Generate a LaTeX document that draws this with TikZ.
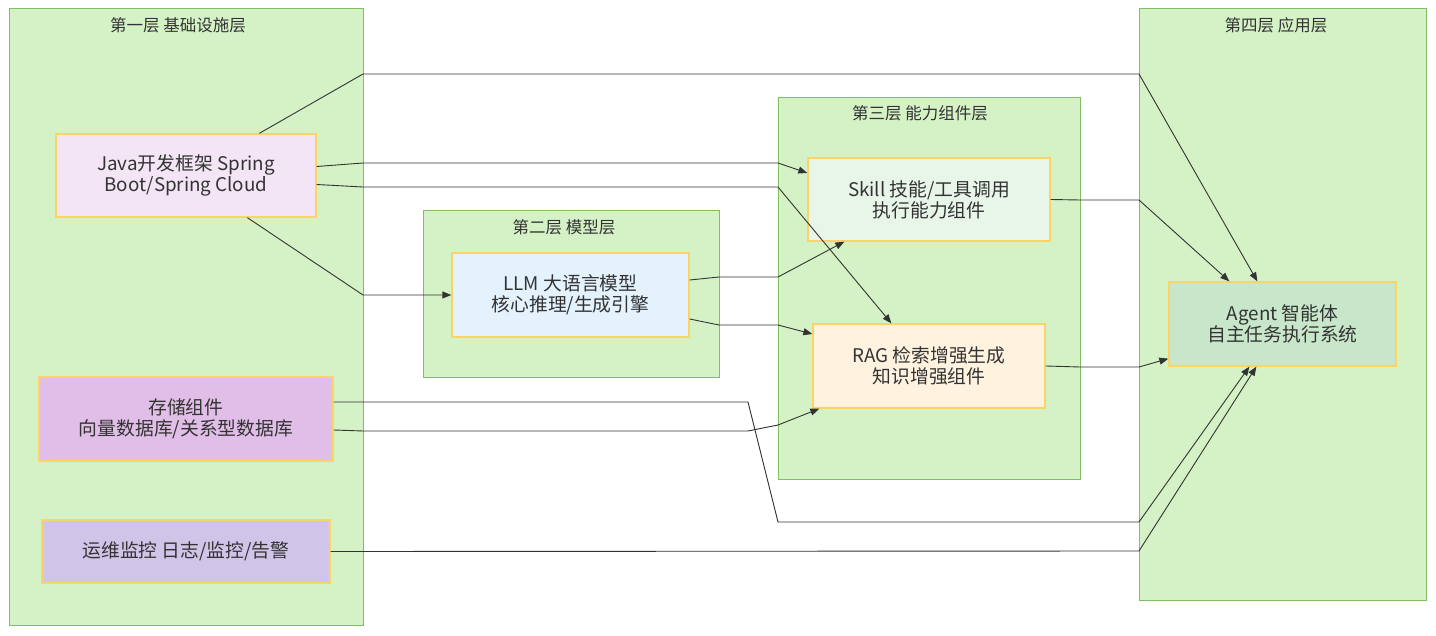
\documentclass[tikz,border=0pt]{standalone}
\usepackage{fontspec}
\setmainfont{Noto Sans CJK SC}
\usetikzlibrary{arrows.meta,calc}
\definecolor{layerfill}{RGB}{212,242,198}
\definecolor{layerdraw}{RGB}{130,190,100}
\definecolor{nodedraw}{RGB}{250,212,100}
\definecolor{txt}{RGB}{51,51,51}
\definecolor{edgec}{RGB}{51,51,51}
\definecolor{cjava}{RGB}{243,229,245}
\definecolor{cllm}{RGB}{227,242,253}
\definecolor{cskill}{RGB}{232,245,233}
\definecolor{crag}{RGB}{255,243,224}
\definecolor{cagent}{RGB}{200,230,201}
\definecolor{cstore}{RGB}{225,190,231}
\definecolor{cops}{RGB}{209,196,233}
\tikzset{
  layerbox/.style={draw=layerdraw, fill=layerfill, line width=1pt},
  layertitle/.style={text=txt, font=\fontsize{16.5}{19}\selectfont, inner sep=0pt},
  nodebox/.style={draw=nodedraw, line width=1.3pt, text=txt, align=center,
    font=\fontsize{18.8}{21}\selectfont, inner sep=0pt},
  edge/.style={draw=edgec, line width=0.9pt, -{Triangle[length=9pt,width=7pt]}},
}
\begin{document}
\begin{tikzpicture}[x=1pt,y=-1pt]
\useasboundingbox (0,0) rectangle (1436,636);
% layers
\draw[layerbox] (9,9) rectangle (363,625);
\draw[layerbox] (423,211) rectangle (719,378);
\draw[layerbox] (778,98) rectangle (1080,479);
\draw[layerbox] (1139,9) rectangle (1426,600);
\node[layertitle] (t1) at (178,25) {第一层 基础设施层};
\node[layertitle] (t2) at (564,227) {第二层 模型层};
\node[layertitle] (t3) at (920,113) {第三层 能力组件层};
\node[layertitle] (t4) at (1276,25) {第四层 应用层};
% nodes
\node[nodebox, fill=cjava, minimum width=260pt, minimum height=83pt] (java) at (186,175.5) {Java开发框架 Spring\\Boot/Spring Cloud};
\node[nodebox, fill=cstore, minimum width=294pt, minimum height=84pt] (storage) at (186,419) {存储组件\\向量数据库/关系型数据库};
\node[nodebox, fill=cops, minimum width=288pt, minimum height=63pt] (ops) at (186,551.5) {运维监控 日志/监控/告警};
\node[nodebox, fill=cllm, minimum width=237pt, minimum height=84pt] (llm) at (570.5,295) {LLM 大语言模型\\核心推理/生成引擎};
\node[nodebox, fill=cskill, minimum width=242pt, minimum height=83pt] (skill) at (929,199.5) {Skill 技能/工具调用\\执行能力组件};
\node[nodebox, fill=crag, minimum width=232pt, minimum height=84pt] (rag) at (929,366) {RAG 检索增强生成\\知识增强组件};
\node[nodebox, fill=cagent, minimum width=227pt, minimum height=84pt] (agent) at (1282.5,324) {Agent 智能体\\自主任务执行系统};
% edges
\draw[edge] ($(java.north west)+(204,0)$) -- (363,74) -- (1139,74) -- ($(agent.north west)+(89,0)$);
\draw[edge] ($(java.east)+(0,-9)$) -- (363,163) -- (778,163) -- ($(skill.west)+(0,-26.5)$);
\draw[edge] ($(java.east)+(0,9)$) -- (363,187) -- (778,187) -- ($(rag.north west)+(79,0)$);
\draw[edge] ($(java.south west)+(192,0)$) -- (363,295) -- (llm.west);
\draw[edge] ($(llm.east)+(0,-15)$) -- (719,277) -- (778,277) -- ($(skill.south west)+(37,0)$);
\draw[edge] ($(llm.east)+(0,24)$) -- (719,325) -- (778,325) -- ($(rag.west)+(0,-32)$);
\draw[edge] (skill.east) -- (1080,200) -- (1139,200) -- ($(agent.north west)+(61,0)$);
\draw[edge] (rag.east) -- (1080,367) -- (1139,367) -- ($(agent.south west)+(0,-8)$);
\draw[edge] ($(storage.east)+(0,11)$) -- (363,431) -- (748,431) -- (778,425) -- ($(rag.south west)+(7,0)$);
\draw[edge] ($(storage.east)+(0,-17)$) -- (363,402) -- (748,402) -- (778,522) -- (1139,522) -- ($(agent.south west)+(81,0)$);
\draw[edge] (ops.east) -- (1139,551) -- ($(agent.south west)+(88,0)$);
\end{tikzpicture}
\end{document}
